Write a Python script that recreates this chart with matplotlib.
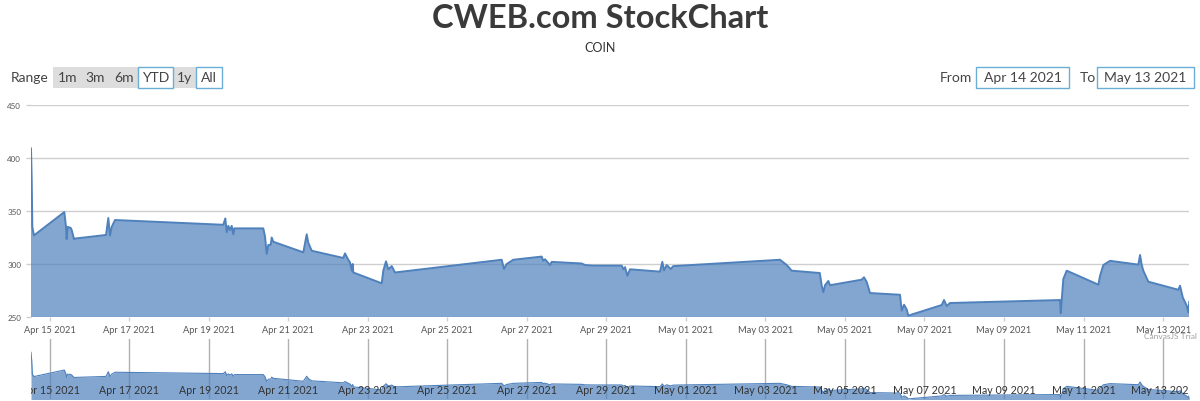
import matplotlib
matplotlib.use('Agg')
import matplotlib.pyplot as plt
import matplotlib.dates as mdates
from matplotlib.patches import Rectangle
import pandas as pd

plt.rcParams['font.family'] = ['Lato', 'DejaVu Sans']

# prix COIN (heure, valeur)
horas = [
    "2021-04-14 12:50", "2021-04-14 13:15", "2021-04-14 13:38", "2021-04-14 14:38",
    "2021-04-15 08:56", "2021-04-15 09:58", "2021-04-15 10:22", "2021-04-15 11:00",
    "2021-04-15 12:48", "2021-04-15 13:24", "2021-04-15 14:47", "2021-04-15 15:23",
    "2021-04-16 10:06", "2021-04-16 11:30", "2021-04-16 12:30", "2021-04-16 13:32",
    "2021-04-16 15:32",
    "2021-04-19 08:53", "2021-04-19 10:06", "2021-04-19 10:57", "2021-04-19 11:54",
    "2021-04-19 12:56", "2021-04-19 13:57", "2021-04-19 14:56", "2021-04-19 15:32",
    "2021-04-20 09:01", "2021-04-20 10:03", "2021-04-20 11:04", "2021-04-20 12:03",
    "2021-04-20 13:29", "2021-04-20 14:05", "2021-04-20 15:03",
    "2021-04-21 09:10", "2021-04-21 11:13", "2021-04-21 12:10", "2021-04-21 14:14",
    "2021-04-22 09:17", "2021-04-22 10:19", "2021-04-22 12:19", "2021-04-22 13:20",
    "2021-04-22 14:22", "2021-04-22 14:58", "2021-04-22 15:20",
    "2021-04-23 08:28", "2021-04-23 09:26", "2021-04-23 11:04", "2021-04-23 12:28",
    "2021-04-23 14:30", "2021-04-23 16:30",
    "2021-04-26 08:53", "2021-04-26 10:16", "2021-04-26 11:54", "2021-04-26 15:53",
    "2021-04-27 09:01", "2021-04-27 09:59", "2021-04-27 11:01", "2021-04-27 14:02",
    "2021-04-27 15:03",
    "2021-04-28 09:10", "2021-04-28 11:10", "2021-04-28 15:48",
    "2021-04-29 09:19", "2021-04-29 10:16", "2021-04-29 11:18", "2021-04-29 12:42",
    "2021-04-29 14:20",
    "2021-04-30 08:25", "2021-04-30 09:49", "2021-04-30 10:51", "2021-04-30 12:27",
    "2021-04-30 14:53", "2021-04-30 16:26",
    "2021-05-03 08:50", "2021-05-03 12:53", "2021-05-03 15:53",
    "2021-05-04 08:50", "2021-05-04 10:00", "2021-05-04 10:58", "2021-05-04 12:00",
    "2021-05-04 14:00", "2021-05-04 15:00",
    "2021-05-05 10:08", "2021-05-05 11:31", "2021-05-05 13:09", "2021-05-05 15:09",
    "2021-05-06 09:14", "2021-05-06 10:16", "2021-05-06 11:40", "2021-05-06 13:18",
    "2021-05-06 14:15",
    "2021-05-07 10:25", "2021-05-07 11:48", "2021-05-07 13:26", "2021-05-07 15:26",
    "2021-05-10 09:49", "2021-05-10 10:14", "2021-05-10 11:47", "2021-05-10 13:51",
    "2021-05-11 08:56", "2021-05-11 09:58", "2021-05-11 11:57", "2021-05-11 15:59",
    "2021-05-12 09:04", "2021-05-12 10:06", "2021-05-12 11:07", "2021-05-12 12:04",
    "2021-05-12 15:06",
    "2021-05-13 09:11", "2021-05-13 10:13", "2021-05-13 11:51", "2021-05-13 14:15",
    "2021-05-13 15:13", "2021-05-13 15:49",
]
precos = [
    409, 381, 335, 327,
    349, 335, 323.5, 335, 334, 332, 323.5, 324,
    327.4, 343.4, 326.8, 335, 341.5,
    337, 343, 330, 336, 332, 336, 328, 333.6,
    333.6, 326, 309.5, 318, 318, 325, 321,
    311, 328, 320, 312.5,
    305.7, 310, 304, 301.5, 293.7, 300, 292,
    281.8, 293.7, 302.5, 295, 298, 292,
    304, 295.3, 300, 304,
    307, 303, 304.5, 299, 302,
    300.5, 299, 298.5,
    298.5, 295, 297, 289, 295,
    292.8, 302, 294, 299, 295.3, 298,
    304, 299, 293.7,
    291.5, 279.6, 273.3, 280, 284, 280,
    285.2, 287.5, 283, 272.6,
    271, 256, 261.6, 257, 251.3,
    261.3, 266, 260.4, 263.2,
    266, 253.6, 285.8, 293.7,
    280.5, 289, 299, 303,
    299.4, 308.5, 299, 293.7, 283.3,
    275.7, 279.5, 268.6, 260.7, 254.4, 264.4,
]

titulo = "CWEB.com StockChart"
subtitulo = "COIN"
botoes = ["1m", "3m", "6m", "YTD", "1y", "All"]
data_de = "Apr 14 2021"
data_ate = "May 13 2021"
y_ticks = [250, 300, 350, 400, 450]

t = pd.to_datetime(horas)

W, H = 1200, 402
azul = '#4F81BC'
grade = '#cfcfcf'
borda = '#6aaed6'


def fx(x):
    return x / W


def fy(y):
    return 1 - y / H


fig = plt.figure(figsize=(12, 4.02), dpi=100)

# grafico principal
ax = fig.add_axes([fx(31), fy(318), fx(1189.3 - 31), (318 - 106) / H])
ax.fill_between(t, precos, 0, color=azul, alpha=0.7, lw=0)
ax.plot(t, precos, color=azul, lw=1.4)
ax.set_xlim(t[0], t[-1])
ax.set_ylim(250, 450)
ax.set_yticks(y_ticks)
ax.grid(axis='y', color=grade, lw=1)
ax.set_axisbelow(True)
for s in ax.spines.values():
    s.set_visible(False)
ax.set_xticks(pd.date_range("2021-04-15", "2021-05-13", freq="2D"))
ax.xaxis.set_major_formatter(mdates.DateFormatter("%b %d %Y"))
ax.tick_params(axis='y', length=3.6, width=1, color=grade, pad=3.4,
               labelsize=5.8, labelcolor='#555555')
ax.tick_params(axis='x', length=2.9, width=1, color=grade, pad=3,
               labelsize=6.7, labelcolor='#555555')

# navegador
nav = fig.add_axes([fx(31), fy(400), fx(1189.3 - 31), 60 / H])
nav.fill_between(t, precos, 0, color=azul, alpha=0.7, lw=0)
nav.plot(t, precos, color=azul, lw=0.8)
nav.set_xlim(t[0], t[-1])
nav.set_ylim(251, 454)
ticks_nav = pd.date_range("2021-04-15", "2021-05-13", freq="2D")
for d in ticks_nav:
    nav.axvline(d, color='#b0b0b0', lw=1, zorder=0)
    nav.text(d, 0.15, d.strftime("%b %d %Y"), transform=nav.get_xaxis_transform(),
             ha='center', va='center', fontsize=7.7, color='#333333', clip_on=True)
nav.set_xticks([])
nav.set_yticks([])
for s in nav.spines.values():
    s.set_visible(False)

# titulos
fig.text(0.5, fy(18), titulo, ha='center', va='center', fontsize=23.5,
         fontweight='bold', color='#3a3a3a')
fig.text(0.5, fy(48), subtitulo, ha='center', va='center', fontsize=9, color='#333333')
fig.text(fx(1197), fy(337), "CanvasJS Trial", ha='right', va='center',
         fontsize=6, color='#a0a0a0')

# botoes de intervalo
fig.text(fx(11), fy(78), "Range", ha='left', va='center', fontsize=10, color='#444444')
fig.add_artist(Rectangle((fx(53.3), fy(89)), fx(196.7 - 53.3), (89 - 68.3) / H,
                         transform=fig.transFigure, facecolor='#dddddd', edgecolor='none'))
caixas = {"YTD": (138.3, 172.7), "All": (196, 222)}
for nome, (x0, x1) in caixas.items():
    fig.add_artist(Rectangle((fx(x0), fy(89)), fx(x1 - x0), (89 - 68.3) / H,
                             transform=fig.transFigure, facecolor='white',
                             edgecolor=borda, lw=1))
centros = [68, 95.5, 124, 155.5, 184.3, 209]
for nome, cx in zip(botoes, centros):
    fig.text(fx(cx), fy(78), nome, ha='center', va='center', fontsize=10, color='#444444')

# datas de/ate
fig.text(fx(940), fy(78), "From", ha='left', va='center', fontsize=10, color='#444444')
fig.add_artist(Rectangle((fx(976), fy(89)), fx(1069.3 - 976), (89 - 68.3) / H,
                         transform=fig.transFigure, facecolor='white', edgecolor=borda, lw=1))
fig.text(fx(1022.6), fy(78), data_de, ha='center', va='center', fontsize=10, color='#444444')
fig.text(fx(1080), fy(78), "To", ha='left', va='center', fontsize=10, color='#444444')
fig.add_artist(Rectangle((fx(1097.3), fy(89)), fx(1194 - 1097.3), (89 - 68.3) / H,
                         transform=fig.transFigure, facecolor='white', edgecolor=borda, lw=1))
fig.text(fx(1145.6), fy(78), data_ate, ha='center', va='center', fontsize=10, color='#444444')

fig.savefig('out.png', dpi=100)
